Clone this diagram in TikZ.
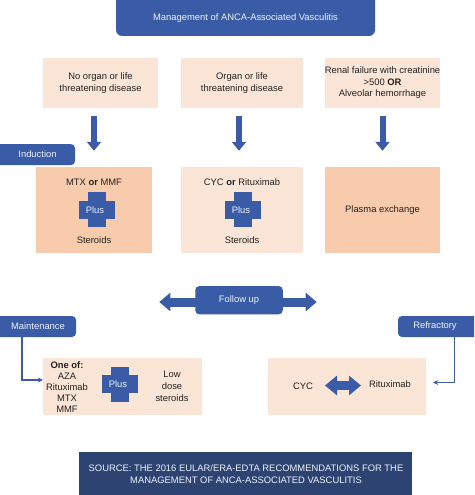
\documentclass[tikz,border=0pt]{standalone}
\usepackage{fontspec}
\setmainfont{Liberation Sans}
\usetikzlibrary{arrows.meta,calc}
\definecolor{mblue}{HTML}{3A5CA6}
\definecolor{navy}{HTML}{2D4473}
\definecolor{lpeach}{HTML}{FBE5D6}
\definecolor{dpeach}{HTML}{F8CBAD}
\definecolor{txt}{HTML}{222222}
\definecolor{ltxt}{HTML}{EEF2FA}
\begin{document}
\begin{tikzpicture}[x=1pt,y=-1pt,
  font=\fontsize{9.4}{11.5}\selectfont,
  lbox/.style={fill=lpeach, draw=none, inner sep=0pt, text=txt, align=center},
  dbox/.style={fill=dpeach, draw=none, inner sep=0pt, text=txt, align=center},
  bluelab/.style={fill=mblue, rounded corners=4pt, text=ltxt, inner sep=0pt},
  txtn/.style={text=txt, inner sep=0pt, align=center},
  blockarrow/.style={draw=mblue, line width=6pt, -{Triangle[width=14pt,length=9pt]}},
  fuarrow/.style={draw=mblue, line width=9pt, {Triangle[width=18pt,length=11pt]}-{Triangle[width=18pt,length=11pt]}},
  swaparrow/.style={draw=mblue, line width=9pt, {Triangle[width=19pt,length=12pt]}-{Triangle[width=19pt,length=12pt]}},
  thinarrow/.style={draw=mblue, line width=1.3pt, -{Stealth[length=5pt,width=5pt]}},
  pluscross/.pic={
    \fill[mblue] (-18,-8.8) rectangle (18,8.8);
    \fill[mblue] (-8.8,-17.5) rectangle (8.8,17.5);
    \node[text=ltxt, inner sep=0pt] (-t) at (-2,0) {Plus};
  }]
\useasboundingbox (0,0) rectangle (474,495);
\clip (0,0) rectangle (474,495);

% title
\node[bluelab, rounded corners=6pt, minimum width=259pt, text height=31pt, text depth=15pt] (title) at (245.5,13) {Management of ANCA-Associated Vasculitis};

% row 1
\node[lbox, minimum width=115pt, minimum height=50pt] (r1a) at (100.5,83) {No organ or life\\threatening disease};
\node[lbox, minimum width=122pt, minimum height=50pt] (r1b) at (242,83) {Organ or life\\threatening disease};
\node[lbox, minimum width=115pt, minimum height=50pt] (r1c) at (382.5,83) {Renal failure with creatinine\\>500 \textbf{OR}\\Alveolar hemorrhage};

% row 2
\node[dbox, minimum width=116pt, minimum height=86pt] (r2a) at (94,210) {};
\node[lbox, minimum width=122pt, minimum height=86pt] (r2b) at (242,210) {};
\node[dbox, minimum width=115pt, minimum height=86pt] (r2c) at (382.5,210) {Plasma exchange};

\node[txtn] (r2aT) at (94,182) {MTX \textbf{or} MMF};
\pic (crossA) at (97,209.7) {pluscross};
\node[txtn] (r2aB) at (94,240) {Steroids};

\node[txtn] (r2bT) at (242,182) {CYC \textbf{or} Rituximab};
\pic (crossB) at (243,209.7) {pluscross};
\node[txtn] (r2bB) at (242,240) {Steroids};

% down arrows
\draw[blockarrow] ($(r2a.north |- r1a.south)+(0,8)$) -- ($(r2a.north)+(0,-16)$);
\draw[blockarrow] ($(239,0 |- r1b.south)+(0,8)$) -- ($(239,0 |- r2b.north)+(0,-16)$);
\draw[blockarrow] ($(r2c.north |- r1c.south)+(0,8)$) -- ($(r2c.north)+(0,-16)$);

% induction label
\node[bluelab, minimum width=85pt, minimum height=21pt, text width=85pt, align=center] (ind) at (32.5,154.6) {\hspace*{10pt}Induction};

% follow up
\coordinate (fuL) at (159.3,302);
\coordinate (fuR) at (316.7,302);
\draw[fuarrow] (fuL) -- (fuR);
\node[bluelab, minimum width=87.5pt, minimum height=28.3pt] (fu) at (239,300.2) {Follow up};

% maintenance / refractory labels
\node[bluelab, minimum width=86pt, minimum height=21pt] (maint) at (33,326.5) {\hspace*{10pt}Maintenance};
\node[bluelab, minimum width=86pt, minimum height=21pt] (refr) at (441,326.5) {Refractory\hspace*{12pt}};

% row 3
\node[lbox, minimum width=159pt, minimum height=57pt] (r3a) at (122.5,386.5) {};
\node[lbox, minimum width=158pt, minimum height=57pt] (r3b) at (347,386.5) {};

\node[txtn, font=\fontsize{9.4}{11.2}\selectfont] (oneof) at (67,387) {\textbf{One of:}\\AZA\\Rituximab\\MTX\\MMF};
\pic (crossC) at (120,384) {pluscross};
\node[txtn, font=\fontsize{9.4}{12}\selectfont] (lds) at (172,386) {Low\\dose\\steroids};

\node[txtn] (cyc) at (303,386) {CYC};
\node[txtn] (ritux) at (390,384.5) {Rituximab};
\coordinate (swL) at (325,385.5);
\coordinate (swR) at (361,385.5);
\draw[swaparrow] (swL) -- (swR);

% thin connectors
\coordinate (mA) at (22,380);
\coordinate (rA) at (454.5,382.5);
\draw[thinarrow] (mA |- maint.south) -- (mA) -- (r3a.west |- mA);
\draw[thinarrow] (rA |- refr.south) -- (rA) -- ($(r3b.east |- rA)+(7,0)$);

% source
\node[fill=navy, minimum width=333pt, minimum height=50pt, inner sep=0pt] (src) at (245.5,477) {};
\node[text=ltxt, align=center, inner sep=0pt, font=\fontsize{9.4}{11.7}\selectfont] (srctext) at (246,474)
  {SOURCE: THE 2016 EULAR/ERA-EDTA RECOMMENDATIONS FOR THE\\MANAGEMENT OF ANCA-ASSOCIATED VASCULITIS};
\end{tikzpicture}
\end{document}
